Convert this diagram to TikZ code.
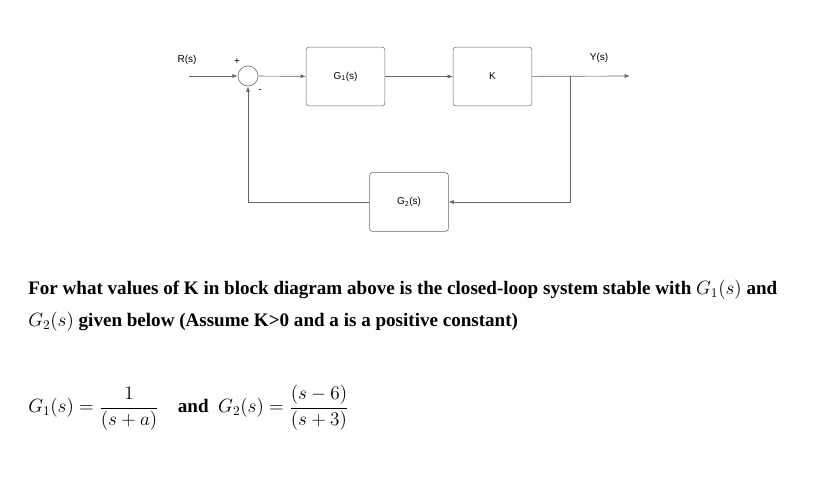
\documentclass[tikz,border=0pt]{standalone}
\usepackage{fontspec}
\setmainfont{Liberation Serif}
\newfontfamily\lsans{Liberation Sans}
\usetikzlibrary{arrows.meta}
\begin{document}
\begin{tikzpicture}[x=0.75pt,y=-0.75pt,
 blk/.style={draw=black!60,rounded corners=2pt,minimum width=59pt,minimum height=44pt,inner sep=0pt,font=\lsans\fontsize{7.5}{8}\selectfont},
 lbl/.style={font=\lsans\fontsize{7.5}{8}\selectfont,inner sep=0pt},
 wire/.style={draw=black!60,line width=0.5pt},
 arr/.style={wire,-{Latex[length=4pt,width=3pt]}},
 txt/.style={font=\bfseries\fontsize{14.3}{16}\selectfont,inner sep=0pt,anchor=west}]
\useasboundingbox (0,0) rectangle (816,489);
\node[draw=black!60,circle,minimum size=15pt,inner sep=0pt] (sum) at (248,76) {};
\node[blk] (g1) at (345.5,76.5) {G\textsubscript{1}(s)};
\node[blk] (k) at (492.5,76.5) {K};
\node[blk] (g2) at (409,202) {G\textsubscript{2}(s)};
\coordinate (rin) at (189,76);
\coordinate (br) at (570,76);
\coordinate (out) at (630,76);
\node[lbl] (rl) at (187,60) {R(s)};
\node[lbl] (yl) at (599,58) {Y(s)};
\node[lbl] (pl) at (237,62) {+};
\node[lbl] (ml) at (260,91) {-};
\draw[arr] (rin) -- (sum);
\draw[arr] (sum) -- (g1);
\draw[arr] (g1) -- (k);
\draw[arr] (k) -- (out);
\draw[arr] (br) |- (g2);
\draw[arr] (g2) -| (sum);
\node[txt] (t1) at (28,290) {For what values of K in block diagram above is the closed-loop system stable with $G_1(s)$ and};
\node[txt] (t2) at (28,322) {$G_2(s)$ given below (Assume K{>}0 and a is a positive constant)};
\node[txt,anchor=west] (eq) at (28,408) {$\displaystyle G_1(s)=\frac{1}{(s+a)}$\quad and\ \ $\displaystyle G_2(s)=\frac{(s-6)}{(s+3)}$};
\end{tikzpicture}
\end{document}
